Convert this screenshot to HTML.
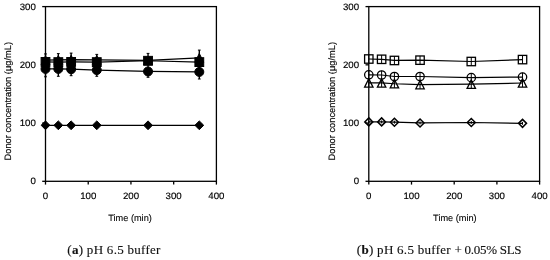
<!DOCTYPE html>
<html><head><meta charset="utf-8"><title>Figure</title>
<style>
html,body{margin:0;padding:0;background:#fff;}
svg{display:block}
.tk{font-family:"Liberation Sans",sans-serif;font-size:9.3px;text-rendering:geometricPrecision;fill:#000;stroke:#000;stroke-width:0.15px}
.ax{font-family:"Liberation Sans",sans-serif;font-size:9.2px;text-rendering:geometricPrecision;fill:#000;stroke:#000;stroke-width:0.1px}
.cap{font-family:"Liberation Serif",serif;font-size:11.5px;letter-spacing:0.25px;fill:#111;stroke:#111;stroke-width:0.12px}
.cap .b{font-weight:bold}
</style></head><body>
<svg width="550" height="260" viewBox="0 0 550 260">
<rect width="550" height="260" fill="#fff"/>
<rect x="45.5" y="6.6" width="170.90" height="174.70" fill="none" stroke="#000" stroke-width="1.3"/>
<line x1="45.50" y1="181.3" x2="45.50" y2="184.60000000000002" stroke="#000" stroke-width="1.3"/>
<text transform="translate(45.50,198.6) scale(1.04,1)" text-anchor="middle" class="tk">0</text>
<line x1="88.22" y1="181.3" x2="88.22" y2="184.60000000000002" stroke="#000" stroke-width="1.3"/>
<text transform="translate(88.22,198.6) scale(1.04,1)" text-anchor="middle" class="tk">100</text>
<line x1="130.95" y1="181.3" x2="130.95" y2="184.60000000000002" stroke="#000" stroke-width="1.3"/>
<text transform="translate(130.95,198.6) scale(1.04,1)" text-anchor="middle" class="tk">200</text>
<line x1="173.68" y1="181.3" x2="173.68" y2="184.60000000000002" stroke="#000" stroke-width="1.3"/>
<text transform="translate(173.68,198.6) scale(1.04,1)" text-anchor="middle" class="tk">300</text>
<line x1="216.40" y1="181.3" x2="216.40" y2="184.60000000000002" stroke="#000" stroke-width="1.3"/>
<text transform="translate(216.40,198.6) scale(1.04,1)" text-anchor="middle" class="tk">400</text>
<line x1="42.2" y1="181.30" x2="45.5" y2="181.30" stroke="#000" stroke-width="1.3"/>
<text transform="translate(35.80,184.30) scale(1.04,1)" text-anchor="end" class="tk">0</text>
<line x1="42.2" y1="123.07" x2="45.5" y2="123.07" stroke="#000" stroke-width="1.3"/>
<text transform="translate(35.80,126.07) scale(1.04,1)" text-anchor="end" class="tk">100</text>
<line x1="42.2" y1="64.83" x2="45.5" y2="64.83" stroke="#000" stroke-width="1.3"/>
<text transform="translate(35.80,67.83) scale(1.04,1)" text-anchor="end" class="tk">200</text>
<line x1="42.2" y1="6.60" x2="45.5" y2="6.60" stroke="#000" stroke-width="1.3"/>
<text transform="translate(35.80,9.60) scale(1.04,1)" text-anchor="end" class="tk">300</text>
<text x="130.05" y="220.8" text-anchor="middle" class="ax">Time (min)</text>
<text transform="translate(10.60,101.2) rotate(-90) scale(1,1)" text-anchor="middle" class="tk">Donor concentration (μg/mL)</text>
<polyline points="45.50,60.17 58.32,59.88 71.14,59.59 96.77,59.88 148.04,60.47 199.31,57.85" fill="none" stroke="#000" stroke-width="1.2"/>
<polyline points="45.50,61.92 58.32,62.10 71.14,61.92 96.77,62.10 148.04,60.76 199.31,62.10" fill="none" stroke="#000" stroke-width="1.2"/>
<polyline points="45.50,68.91 58.32,68.91 71.14,69.20 96.77,70.07 148.04,71.47 199.31,71.94" fill="none" stroke="#000" stroke-width="1.2"/>
<polyline points="45.50,125.28 58.32,125.28 71.14,125.28 96.77,125.28 148.04,125.28 199.31,125.28" fill="none" stroke="#000" stroke-width="1.2"/>
<line x1="45.50" y1="53.90" x2="45.50" y2="76.80" stroke="#000" stroke-width="1.4"/>
<line x1="44.10" y1="53.90" x2="46.90" y2="53.90" stroke="#000" stroke-width="1"/>
<line x1="44.10" y1="76.80" x2="46.90" y2="76.80" stroke="#000" stroke-width="1"/>
<line x1="58.32" y1="53.60" x2="58.32" y2="76.30" stroke="#000" stroke-width="1.4"/>
<line x1="56.92" y1="53.60" x2="59.72" y2="53.60" stroke="#000" stroke-width="1"/>
<line x1="56.92" y1="76.30" x2="59.72" y2="76.30" stroke="#000" stroke-width="1"/>
<line x1="71.14" y1="53.10" x2="71.14" y2="75.70" stroke="#000" stroke-width="1.4"/>
<line x1="69.73" y1="53.10" x2="72.54" y2="53.10" stroke="#000" stroke-width="1"/>
<line x1="69.73" y1="75.70" x2="72.54" y2="75.70" stroke="#000" stroke-width="1"/>
<line x1="96.77" y1="54.40" x2="96.77" y2="76.30" stroke="#000" stroke-width="1.4"/>
<line x1="95.37" y1="54.40" x2="98.17" y2="54.40" stroke="#000" stroke-width="1"/>
<line x1="95.37" y1="76.30" x2="98.17" y2="76.30" stroke="#000" stroke-width="1"/>
<line x1="148.04" y1="53.40" x2="148.04" y2="77.30" stroke="#000" stroke-width="1.4"/>
<line x1="146.64" y1="53.40" x2="149.44" y2="53.40" stroke="#000" stroke-width="1"/>
<line x1="146.64" y1="77.30" x2="149.44" y2="77.30" stroke="#000" stroke-width="1"/>
<line x1="199.31" y1="50.10" x2="199.31" y2="79.00" stroke="#000" stroke-width="1.4"/>
<line x1="197.91" y1="50.10" x2="200.71" y2="50.10" stroke="#000" stroke-width="1"/>
<line x1="197.91" y1="79.00" x2="200.71" y2="79.00" stroke="#000" stroke-width="1"/>
<polygon points="45.50,55.77 49.90,64.57 41.10,64.57" fill="#000" stroke="#000" stroke-width="1"/>
<polygon points="58.32,55.48 62.72,64.28 53.92,64.28" fill="#000" stroke="#000" stroke-width="1"/>
<polygon points="71.14,55.19 75.54,63.99 66.73,63.99" fill="#000" stroke="#000" stroke-width="1"/>
<polygon points="96.77,55.48 101.17,64.28 92.37,64.28" fill="#000" stroke="#000" stroke-width="1"/>
<polygon points="148.04,56.07 152.44,64.87 143.64,64.87" fill="#000" stroke="#000" stroke-width="1"/>
<polygon points="199.31,53.45 203.71,62.25 194.91,62.25" fill="#000" stroke="#000" stroke-width="1"/>
<rect x="41.10" y="57.52" width="8.80" height="8.80" fill="#000" stroke="#000" stroke-width="1"/>
<rect x="53.92" y="57.70" width="8.80" height="8.80" fill="#000" stroke="#000" stroke-width="1"/>
<rect x="66.73" y="57.52" width="8.80" height="8.80" fill="#000" stroke="#000" stroke-width="1"/>
<rect x="92.37" y="57.70" width="8.80" height="8.80" fill="#000" stroke="#000" stroke-width="1"/>
<rect x="143.64" y="56.36" width="8.80" height="8.80" fill="#000" stroke="#000" stroke-width="1"/>
<rect x="194.91" y="57.70" width="8.80" height="8.80" fill="#000" stroke="#000" stroke-width="1"/>
<circle cx="45.50" cy="68.91" r="4.5" fill="#000" stroke="#000" stroke-width="1"/>
<circle cx="58.32" cy="68.91" r="4.5" fill="#000" stroke="#000" stroke-width="1"/>
<circle cx="71.14" cy="69.20" r="4.5" fill="#000" stroke="#000" stroke-width="1"/>
<circle cx="96.77" cy="70.07" r="4.5" fill="#000" stroke="#000" stroke-width="1"/>
<circle cx="148.04" cy="71.47" r="4.5" fill="#000" stroke="#000" stroke-width="1"/>
<circle cx="199.31" cy="71.94" r="4.5" fill="#000" stroke="#000" stroke-width="1"/>
<polygon points="45.50,120.88 49.90,125.28 45.50,129.68 41.10,125.28" fill="#000" stroke="#000" stroke-width="1"/>
<polygon points="58.32,120.88 62.72,125.28 58.32,129.68 53.92,125.28" fill="#000" stroke="#000" stroke-width="1"/>
<polygon points="71.14,120.88 75.54,125.28 71.14,129.68 66.73,125.28" fill="#000" stroke="#000" stroke-width="1"/>
<polygon points="96.77,120.88 101.17,125.28 96.77,129.68 92.37,125.28" fill="#000" stroke="#000" stroke-width="1"/>
<polygon points="148.04,120.88 152.44,125.28 148.04,129.68 143.64,125.28" fill="#000" stroke="#000" stroke-width="1"/>
<polygon points="199.31,120.88 203.71,125.28 199.31,129.68 194.91,125.28" fill="#000" stroke="#000" stroke-width="1"/>
<rect x="368.8" y="6.6" width="170.80" height="174.70" fill="none" stroke="#000" stroke-width="1.3"/>
<line x1="368.80" y1="181.3" x2="368.80" y2="184.60000000000002" stroke="#000" stroke-width="1.3"/>
<text transform="translate(368.80,198.6) scale(1.04,1)" text-anchor="middle" class="tk">0</text>
<line x1="411.50" y1="181.3" x2="411.50" y2="184.60000000000002" stroke="#000" stroke-width="1.3"/>
<text transform="translate(411.50,198.6) scale(1.04,1)" text-anchor="middle" class="tk">100</text>
<line x1="454.20" y1="181.3" x2="454.20" y2="184.60000000000002" stroke="#000" stroke-width="1.3"/>
<text transform="translate(454.20,198.6) scale(1.04,1)" text-anchor="middle" class="tk">200</text>
<line x1="496.90" y1="181.3" x2="496.90" y2="184.60000000000002" stroke="#000" stroke-width="1.3"/>
<text transform="translate(496.90,198.6) scale(1.04,1)" text-anchor="middle" class="tk">300</text>
<line x1="539.60" y1="181.3" x2="539.60" y2="184.60000000000002" stroke="#000" stroke-width="1.3"/>
<text transform="translate(539.60,198.6) scale(1.04,1)" text-anchor="middle" class="tk">400</text>
<line x1="365.5" y1="181.30" x2="368.8" y2="181.30" stroke="#000" stroke-width="1.3"/>
<text transform="translate(359.10,184.30) scale(1.04,1)" text-anchor="end" class="tk">0</text>
<line x1="365.5" y1="123.07" x2="368.8" y2="123.07" stroke="#000" stroke-width="1.3"/>
<text transform="translate(359.10,126.07) scale(1.04,1)" text-anchor="end" class="tk">100</text>
<line x1="365.5" y1="64.83" x2="368.8" y2="64.83" stroke="#000" stroke-width="1.3"/>
<text transform="translate(359.10,67.83) scale(1.04,1)" text-anchor="end" class="tk">200</text>
<line x1="365.5" y1="6.60" x2="368.8" y2="6.60" stroke="#000" stroke-width="1.3"/>
<text transform="translate(359.10,9.60) scale(1.04,1)" text-anchor="end" class="tk">300</text>
<text x="454.90" y="220.8" text-anchor="middle" class="ax">Time (min)</text>
<text transform="translate(335.20,101.2) rotate(-90) scale(1,1)" text-anchor="middle" class="tk">Donor concentration (μg/mL)</text>
<rect x="364.60" y="54.81" width="8.40" height="8.40" fill="none" stroke="#000" stroke-width="1.3"/>
<rect x="377.41" y="55.10" width="8.40" height="8.40" fill="none" stroke="#000" stroke-width="1.3"/>
<rect x="390.22" y="56.27" width="8.40" height="8.40" fill="none" stroke="#000" stroke-width="1.3"/>
<rect x="415.84" y="55.97" width="8.40" height="8.40" fill="none" stroke="#000" stroke-width="1.3"/>
<rect x="467.08" y="57.31" width="8.40" height="8.40" fill="none" stroke="#000" stroke-width="1.3"/>
<rect x="518.32" y="55.39" width="8.40" height="8.40" fill="none" stroke="#000" stroke-width="1.3"/>
<polyline points="368.80,59.01 381.61,59.30 394.42,60.47 420.04,60.17 471.28,61.51 522.52,59.59" fill="none" stroke="#000" stroke-width="1.2"/>
<line x1="368.80" y1="54.70" x2="368.80" y2="63.32" stroke="#000" stroke-width="1"/>
<line x1="381.61" y1="54.99" x2="381.61" y2="63.61" stroke="#000" stroke-width="1"/>
<line x1="394.42" y1="56.16" x2="394.42" y2="64.78" stroke="#000" stroke-width="1"/>
<line x1="420.04" y1="55.87" x2="420.04" y2="64.48" stroke="#000" stroke-width="1"/>
<line x1="471.28" y1="57.20" x2="471.28" y2="65.82" stroke="#000" stroke-width="1"/>
<line x1="522.52" y1="55.28" x2="522.52" y2="63.90" stroke="#000" stroke-width="1"/>
<circle cx="368.80" cy="74.85" r="4.2" fill="none" stroke="#000" stroke-width="1.3"/>
<circle cx="381.61" cy="75.02" r="4.2" fill="none" stroke="#000" stroke-width="1.3"/>
<circle cx="394.42" cy="76.48" r="4.2" fill="none" stroke="#000" stroke-width="1.3"/>
<circle cx="420.04" cy="76.48" r="4.2" fill="none" stroke="#000" stroke-width="1.3"/>
<circle cx="471.28" cy="77.64" r="4.2" fill="none" stroke="#000" stroke-width="1.3"/>
<circle cx="522.52" cy="77.06" r="4.2" fill="none" stroke="#000" stroke-width="1.3"/>
<polyline points="368.80,74.85 381.61,75.02 394.42,76.48 420.04,76.48 471.28,77.64 522.52,77.06" fill="none" stroke="#000" stroke-width="1.2"/>
<line x1="368.80" y1="70.48" x2="368.80" y2="79.22" stroke="#000" stroke-width="1"/>
<line x1="381.61" y1="70.66" x2="381.61" y2="79.39" stroke="#000" stroke-width="1"/>
<line x1="394.42" y1="72.11" x2="394.42" y2="80.85" stroke="#000" stroke-width="1"/>
<line x1="420.04" y1="72.11" x2="420.04" y2="80.85" stroke="#000" stroke-width="1"/>
<line x1="471.28" y1="73.28" x2="471.28" y2="82.01" stroke="#000" stroke-width="1"/>
<line x1="522.52" y1="72.69" x2="522.52" y2="81.43" stroke="#000" stroke-width="1"/>
<polygon points="368.80,78.69 373.00,87.09 364.60,87.09" fill="none" stroke="#000" stroke-width="1.3"/>
<polygon points="381.61,78.69 385.81,87.09 377.41,87.09" fill="none" stroke="#000" stroke-width="1.3"/>
<polygon points="394.42,79.56 398.62,87.96 390.22,87.96" fill="none" stroke="#000" stroke-width="1.3"/>
<polygon points="420.04,80.43 424.24,88.83 415.84,88.83" fill="none" stroke="#000" stroke-width="1.3"/>
<polygon points="471.28,79.97 475.48,88.37 467.08,88.37" fill="none" stroke="#000" stroke-width="1.3"/>
<polygon points="522.52,78.80 526.72,87.20 518.32,87.20" fill="none" stroke="#000" stroke-width="1.3"/>
<polyline points="368.80,82.89 381.61,82.89 394.42,83.76 420.04,84.63 471.28,84.17 522.52,83.00" fill="none" stroke="#000" stroke-width="1.2"/>
<line x1="368.80" y1="78.81" x2="368.80" y2="86.96" stroke="#000" stroke-width="1"/>
<line x1="381.61" y1="78.81" x2="381.61" y2="86.96" stroke="#000" stroke-width="1"/>
<line x1="394.42" y1="79.68" x2="394.42" y2="87.84" stroke="#000" stroke-width="1"/>
<line x1="420.04" y1="80.56" x2="420.04" y2="88.71" stroke="#000" stroke-width="1"/>
<line x1="471.28" y1="80.09" x2="471.28" y2="88.24" stroke="#000" stroke-width="1"/>
<line x1="522.52" y1="78.93" x2="522.52" y2="87.08" stroke="#000" stroke-width="1"/>
<polygon points="368.80,117.90 372.80,121.90 368.80,125.90 364.80,121.90" fill="none" stroke="#000" stroke-width="1.5"/>
<polygon points="381.61,117.90 385.61,121.90 381.61,125.90 377.61,121.90" fill="none" stroke="#000" stroke-width="1.5"/>
<polygon points="394.42,118.19 398.42,122.19 394.42,126.19 390.42,122.19" fill="none" stroke="#000" stroke-width="1.5"/>
<polygon points="420.04,118.95 424.04,122.95 420.04,126.95 416.04,122.95" fill="none" stroke="#000" stroke-width="1.5"/>
<polygon points="471.28,118.48 475.28,122.48 471.28,126.48 467.28,122.48" fill="none" stroke="#000" stroke-width="1.5"/>
<polygon points="522.52,119.36 526.52,123.36 522.52,127.36 518.52,123.36" fill="none" stroke="#000" stroke-width="1.5"/>
<polyline points="368.80,121.90 381.61,121.90 394.42,122.19 420.04,122.95 471.28,122.48 522.52,123.36" fill="none" stroke="#000" stroke-width="1.2"/>
<line x1="368.80" y1="120.45" x2="368.80" y2="123.36" stroke="#000" stroke-width="1"/>
<line x1="381.61" y1="120.45" x2="381.61" y2="123.36" stroke="#000" stroke-width="1"/>
<line x1="394.42" y1="120.74" x2="394.42" y2="123.65" stroke="#000" stroke-width="1"/>
<line x1="420.04" y1="121.49" x2="420.04" y2="124.41" stroke="#000" stroke-width="1"/>
<line x1="471.28" y1="121.03" x2="471.28" y2="123.94" stroke="#000" stroke-width="1"/>
<line x1="522.52" y1="121.90" x2="522.52" y2="124.81" stroke="#000" stroke-width="1"/>
<text x="0" y="253.6" class="cap" transform="translate(67.3,0) scale(1.133,1)">(<tspan class="b">a</tspan>) pH 6.5 buffer</text>
<text x="0" y="253.6" class="cap" transform="translate(356.8,0) scale(1.133,1)">(<tspan class="b">b</tspan>) pH 6.5 buffer <tspan style="letter-spacing:-0.25px">+ 0.05% SLS</tspan></text>
</svg>
</body></html>
